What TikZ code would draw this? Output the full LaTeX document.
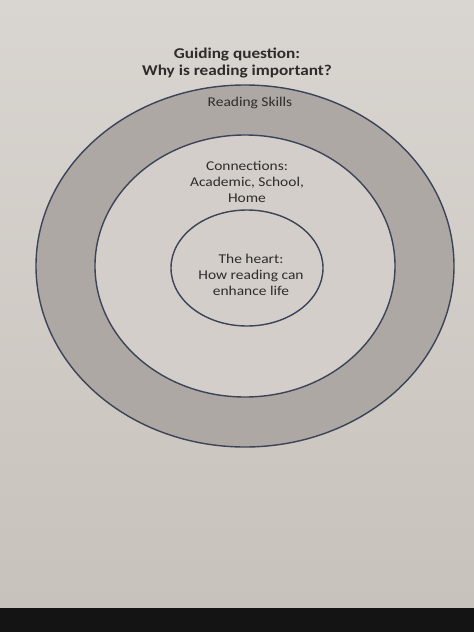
\documentclass[tikz,border=0pt]{standalone}
\usepackage{fontspec}
\setmainfont{Carlito}
\usetikzlibrary{shapes.geometric}

\definecolor{paperhi}{HTML}{D9D5D0}
\definecolor{paperlo}{HTML}{C8C2BC}
\definecolor{band}{HTML}{AEA8A4}
\definecolor{core}{HTML}{D3CEC9}
\definecolor{rim}{HTML}{3C4458}
\definecolor{ink}{HTML}{2E2C2B}

\begin{document}
\begin{tikzpicture}[x=0.5mm,y=-0.5mm,
  ring/.style={ellipse,draw=rim,line width=2pt,inner sep=0pt},
  say/.style={align=center,text=ink,font=\fontsize{22}{25.7}\selectfont,yscale=.87,transform shape}]
\useasboundingbox (0,0) rectangle (474,632);
\shade[top color=paperhi,bottom color=paperlo] (0,0) rectangle (474,608);
\fill[black!92] (0,608) rectangle (474,632);

\coordinate (C) at (245,266);

% the three rings
\node[ring,fill=band,minimum width=209mm,minimum height=181mm] (outer) at (C) {};
\node[ring,fill=core,minimum width=150mm,minimum height=131mm] (middle) at (C) {};
\node[ring,fill=core,minimum width=76mm,minimum height=58mm] (heart) at (247,268) {};

\node[say,font=\fontsize{24.5}{29.4}\selectfont\bfseries] (question) at (237,63) {Guiding question:\\Why is reading important?};
\node[say] (skills) at (250,103) {Reading Skills};
\node[say] (links) at (247,182) {Connections:\\Academic, School,\\Home};
\node[say] (core) at (251,275) {The heart:\\How reading can\\enhance life};
\end{tikzpicture}
\end{document}
